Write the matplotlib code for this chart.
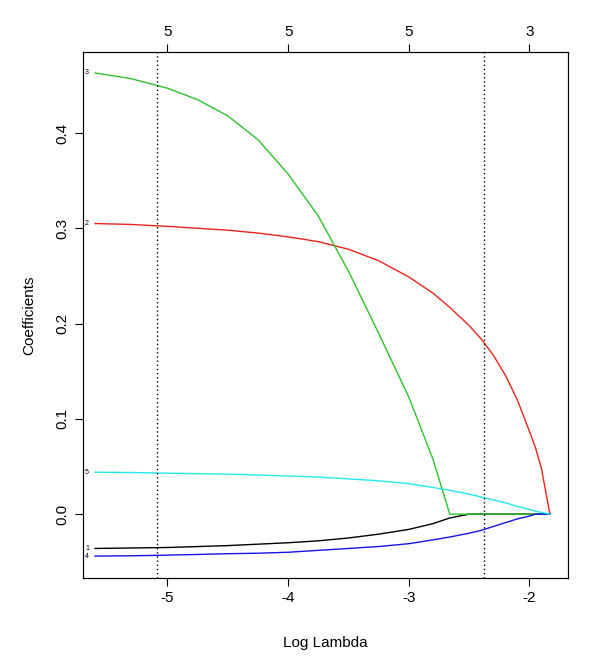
import matplotlib.pyplot as plt

plt.rcParams['font.family'] = ['Liberation Sans', 'DejaVu Sans']

# log lambda grid and coefficient paths
log_lambda = [-5.6, -5.3, -5.0, -4.75, -4.5, -4.25, -4.0, -3.75, -3.5, -3.25, -3.0,
              -2.8, -2.66, -2.5, -2.4, -2.3, -2.2, -2.1, -2.0, -1.95, -1.9, -1.83]
coef_1 = [-0.036, -0.0355, -0.035, -0.034, -0.033, -0.0315, -0.030, -0.028, -0.025, -0.021, -0.016,
          -0.010, -0.004, 0.0, 0.0, 0.0, 0.0, 0.0, 0.0, 0.0, 0.0, 0.0]
coef_2 = [0.305, 0.304, 0.302, 0.300, 0.298, 0.295, 0.291, 0.286, 0.278, 0.266, 0.249,
          0.232, 0.217, 0.198, 0.184, 0.167, 0.146, 0.120, 0.087, 0.070, 0.048, 0.0]
coef_3 = [0.463, 0.457, 0.447, 0.435, 0.418, 0.393, 0.357, 0.313, 0.255, 0.190, 0.123,
          0.058, 0.0, 0.0, 0.0, 0.0, 0.0, 0.0, 0.0, 0.0, 0.0, 0.0]
coef_4 = [-0.044, -0.0437, -0.043, -0.0423, -0.0415, -0.041, -0.040, -0.038, -0.036, -0.034, -0.031,
          -0.027, -0.024, -0.020, -0.017, -0.013, -0.009, -0.005, -0.002, 0.0, 0.0, 0.0]
coef_5 = [0.044, 0.0437, 0.043, 0.0425, 0.042, 0.041, 0.040, 0.039, 0.037, 0.035, 0.032,
          0.028, 0.025, 0.021, 0.018, 0.015, 0.012, 0.008, 0.005, 0.003, 0.002, 0.0]
paths = {"1": (coef_1, "black"), "2": (coef_2, "#e8241c"), "3": (coef_3, "#2fbf2f"),
         "4": (coef_4, "#1414e6"), "5": (coef_5, "#22e8e8")}
n_nonzero = ["5", "5", "5", "3"]
top_ticks = [-5, -4, -3, -2]
cv_lines = [-5.09, -2.38]

fig = plt.figure(figsize=(6, 6.56), dpi=100)
ax = fig.add_axes([83 / 600, 1 - 578 / 656, 485 / 600, 526 / 656])
for name, (vals, col) in paths.items():
    ax.plot(log_lambda, vals, color=col, lw=1)
    ax.text(log_lambda[0] - 0.05, vals[0], name, fontsize=5, ha="right", va="center")
for v in cv_lines:
    ax.axvline(v, color="black", ls=(0, (1, 2)), lw=1)

ax.set_xlim(-5.70, -1.68)
ax.set_ylim(-0.067, 0.485)
ax.set_xticks([-5, -4, -3, -2])
ax.set_xticklabels(["-5", "-4", "-3", "-2"])
ax.set_yticks([0.0, 0.1, 0.2, 0.3, 0.4])
ax.set_yticklabels(["0.0", "0.1", "0.2", "0.3", "0.4"], rotation=90, va="center")
ax.tick_params(labelsize=11, length=6)
ax.set_xlabel("Log Lambda", fontsize=11, labelpad=22)
ax.set_ylabel("Coefficients", fontsize=11, labelpad=14)

top = ax.twiny()
top.set_xlim(ax.get_xlim())
top.set_xticks(top_ticks)
top.set_xticklabels(n_nonzero)
top.tick_params(labelsize=11, length=6)

fig.savefig("out.png", dpi=100)
